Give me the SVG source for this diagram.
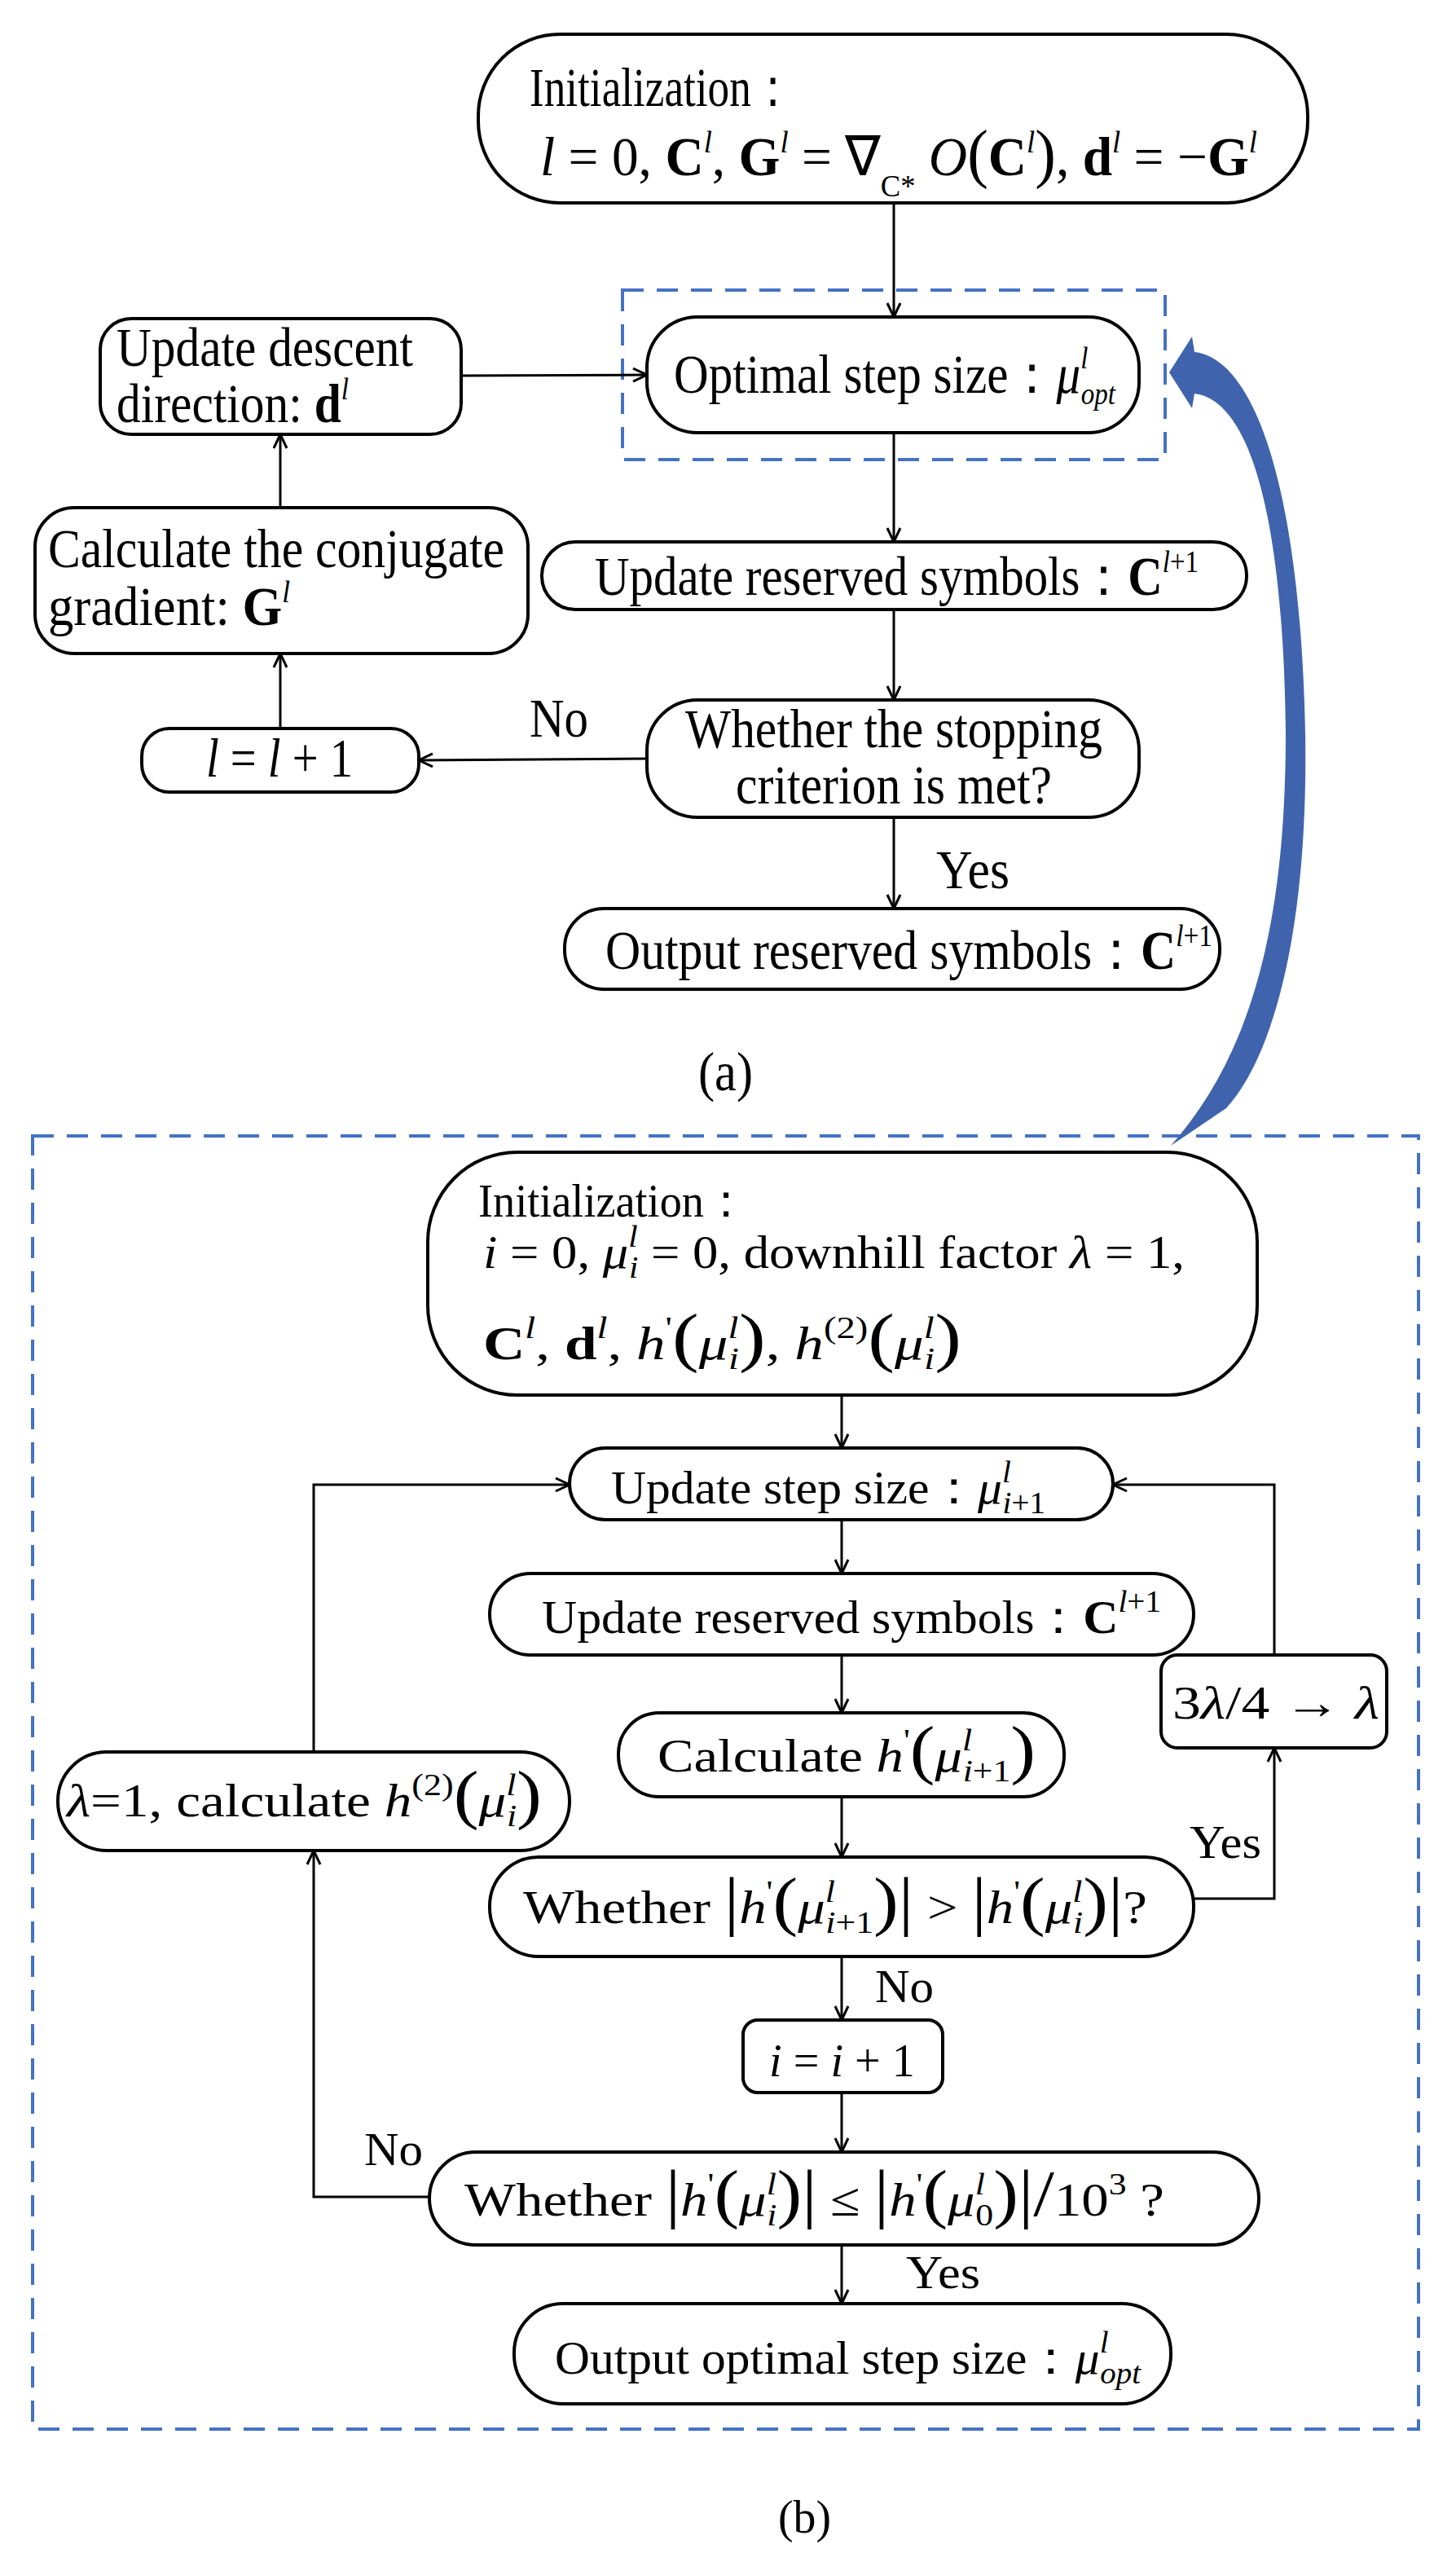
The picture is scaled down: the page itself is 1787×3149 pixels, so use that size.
<svg xmlns="http://www.w3.org/2000/svg" width="1787" height="3149" viewBox="0 0 1787 3149">
<style>
.t{font-family:"Liberation Serif","Times New Roman",serif;fill:#000}
.a{font-size:68px}
.c{font-size:58px}
.i{font-style:italic}
.b{font-weight:bold}
.s{font-size:38px}
.p{font-size:80px}
.n{fill:#fff;stroke:#000;stroke-width:4}
.e{fill:none;stroke:#000;stroke-width:3;marker-end:url(#ah)}
.d{fill:none;stroke:#4472c4;stroke-width:4;stroke-dasharray:26 16}
</style>
<defs>
<marker id="ah" viewBox="0 0 20 20" refX="19" refY="10" markerWidth="20" markerHeight="20" markerUnits="userSpaceOnUse" orient="auto">
<path d="M2,2 L19,10 L2,18" fill="none" stroke="#000" stroke-width="3"/>
</marker>
</defs>
<rect width="1787" height="3149" fill="#fff"/>

<g id="dash-a"><rect class="d" x="764" y="356" width="666" height="208"/></g>
<g id="dash-b"><rect class="d" x="40" y="1394" width="1701" height="1587"/></g>

<g id="connectors">
<path class="e" d="M1097,249 V389"/>
<path class="e" d="M566,461 L794,460"/>
<path class="e" d="M344,623 V533"/>
<path class="e" d="M344,894 V802"/>
<path class="e" d="M1097,531 V665"/>
<path class="e" d="M1097,748 V859"/>
<path class="e" d="M794,931 L514,933"/>
<path class="e" d="M1097,1003 V1115"/>
<path class="e" d="M1033,1712 V1777"/>
<path class="e" d="M1033,1865 V1931"/>
<path class="e" d="M1033,2031 V2102"/>
<path class="e" d="M1033,2205 V2279"/>
<path class="e" d="M1033,2401 V2479"/>
<path class="e" d="M1033,2568 V2641"/>
<path class="e" d="M1033,2755 V2827"/>
<path class="e" d="M1465,2330 H1564 V2145"/>
<path class="e" d="M1564,2031 V1822 H1366"/>
<path class="e" d="M385,2150 V1822 H699"/>
<path class="e" d="M527,2696 H385 V2271"/>
<path id="swoosh" fill="#3f64ad" d="M1435,457 L1463,413 L1466,432 C1540,440 1596,600 1602,900 C1606,1150 1560,1300 1505,1360 L1437,1406 C1530,1300 1578,1150 1578,900 C1575,620 1530,490 1466,483 L1463,501 Z"/>
</g>

<g id="init-a">
<rect class="n" x="587" y="42" width="1018" height="207" rx="100"/>
<text class="t a" x="650" y="130" textLength="325" lengthAdjust="spacingAndGlyphs">Initialization：</text>
<text class="t a" x="663" y="215" textLength="880" lengthAdjust="spacingAndGlyphs"><tspan class="i">l</tspan> = 0, <tspan class="b">C</tspan><tspan class="s i" dy="-28">l</tspan><tspan dy="28">, </tspan><tspan class="b">G</tspan><tspan class="s i" dy="-28">l</tspan><tspan dy="28"> = ∇</tspan><tspan class="s" dy="26">C*</tspan><tspan class="i" dy="-26"> O</tspan><tspan class="p">(</tspan><tspan class="b">C</tspan><tspan class="s i" dy="-28">l</tspan><tspan class="p" dy="28">)</tspan>, <tspan class="b">d</tspan><tspan class="s i" dy="-28">l</tspan><tspan dy="28"> = −</tspan><tspan class="b">G</tspan><tspan class="s i" dy="-28">l</tspan></text>
</g>
<g id="opt-a">
<rect class="n" x="794" y="389" width="604" height="142" rx="62"/>
<text class="t a" x="827" y="482" textLength="542" lengthAdjust="spacingAndGlyphs">Optimal step size：<tspan class="i">μ</tspan><tspan class="s i" dy="-30">l</tspan><tspan class="s i" dx="-10" dy="44">opt</tspan></text>
</g>
<g id="desc-a">
<rect class="n" x="123" y="391" width="443" height="142" rx="38"/>
<text class="t a" x="143" y="449" textLength="364" lengthAdjust="spacingAndGlyphs">Update descent</text>
<text class="t a" x="143" y="518" textLength="285" lengthAdjust="spacingAndGlyphs">direction: <tspan class="b">d</tspan><tspan class="s i" dy="-28">l</tspan></text>
</g>
<g id="conj-a">
<rect class="n" x="43" y="623" width="605" height="179" rx="48"/>
<text class="t a" x="59" y="696" textLength="560" lengthAdjust="spacingAndGlyphs">Calculate the conjugate</text>
<text class="t a" x="59" y="767" textLength="297" lengthAdjust="spacingAndGlyphs">gradient: <tspan class="b">G</tspan><tspan class="s i" dy="-28">l</tspan></text>
</g>
<g id="inc-a">
<rect class="n" x="174" y="894" width="340" height="78" rx="34"/>
<text class="t a" x="253" y="953" textLength="180" lengthAdjust="spacingAndGlyphs"><tspan class="i">l</tspan> = <tspan class="i">l</tspan> + 1</text>
</g>
<g id="upd-a">
<rect class="n" x="665" y="665" width="865" height="83" rx="41"/>
<text class="t a" x="730" y="730" textLength="741" lengthAdjust="spacingAndGlyphs">Update reserved symbols：<tspan class="b">C</tspan><tspan class="s" dy="-28"><tspan class="i">l</tspan>+1</tspan></text>
</g>
<g id="stop-a">
<rect class="n" x="794" y="859" width="604" height="144" rx="62"/>
<text class="t a" x="841" y="917" textLength="512" lengthAdjust="spacingAndGlyphs">Whether the stopping</text>
<text class="t a" x="903" y="986" textLength="388" lengthAdjust="spacingAndGlyphs">criterion is met?</text>
</g>
<g id="out-a">
<rect class="n" x="693" y="1115" width="804" height="99" rx="48"/>
<text class="t a" x="743" y="1189" textLength="745" lengthAdjust="spacingAndGlyphs">Output reserved symbols：<tspan class="b">C</tspan><tspan class="s" dy="-28"><tspan class="i">l</tspan>+1</tspan></text>
</g>
<g id="labels-a">
<text class="t a" x="650" y="904" textLength="72" lengthAdjust="spacingAndGlyphs">No</text>
<text class="t a" x="1149" y="1090" textLength="90" lengthAdjust="spacingAndGlyphs">Yes</text>
<text class="t a" x="857" y="1338" textLength="67" lengthAdjust="spacingAndGlyphs">(a)</text>
</g>

<g id="init-b">
<rect class="n" x="525" y="1414" width="1018" height="298" rx="110"/>
<text class="t c" x="587" y="1493" textLength="331" lengthAdjust="spacingAndGlyphs">Initialization：</text>
<text class="t c" x="593" y="1556" textLength="861" lengthAdjust="spacingAndGlyphs"><tspan class="i">i</tspan> = 0, <tspan class="i">μ</tspan><tspan class="s i" dy="-26">l</tspan><tspan class="s i" dx="-10" dy="38">i</tspan><tspan dy="-12"> = 0, downhill factor </tspan><tspan class="i">λ</tspan> = 1,</text>
<text class="t c" x="593" y="1668" textLength="587" lengthAdjust="spacingAndGlyphs"><tspan class="b">C</tspan><tspan class="s i" dy="-26">l</tspan><tspan dy="26">, </tspan><tspan class="b">d</tspan><tspan class="s i" dy="-26">l</tspan><tspan dy="26">, </tspan><tspan class="i">h</tspan><tspan class="s" dy="-26">'</tspan><tspan class="p" dy="26">(</tspan><tspan class="i">μ</tspan><tspan class="s i" dy="-26">l</tspan><tspan class="s i" dx="-10" dy="38">i</tspan><tspan class="p" dy="-12">)</tspan>, <tspan class="i">h</tspan><tspan class="s" dy="-26">(2)</tspan><tspan class="p" dy="26">(</tspan><tspan class="i">μ</tspan><tspan class="s i" dy="-26">l</tspan><tspan class="s i" dx="-10" dy="38">i</tspan><tspan class="p" dy="-12">)</tspan></text>
</g>
<g id="step-b">
<rect class="n" x="699" y="1777" width="667" height="88" rx="44"/>
<text class="t c" x="750" y="1845" textLength="533" lengthAdjust="spacingAndGlyphs">Update step size：<tspan class="i">μ</tspan><tspan class="s i" dy="-26">l</tspan><tspan class="s" dx="-10" dy="38"><tspan class="i">i</tspan>+1</tspan></text>
</g>
<g id="upd-b">
<rect class="n" x="601" y="1931" width="864" height="100" rx="50"/>
<text class="t c" x="665" y="2004" textLength="760" lengthAdjust="spacingAndGlyphs">Update reserved symbols：<tspan class="b">C</tspan><tspan class="s" dy="-26"><tspan class="i">l</tspan>+1</tspan></text>
</g>
<g id="calc-b">
<rect class="n" x="759" y="2102" width="547" height="103" rx="50"/>
<text class="t c" x="807" y="2174" textLength="464" lengthAdjust="spacingAndGlyphs">Calculate  <tspan class="i">h</tspan><tspan class="s" dy="-26">'</tspan><tspan class="p" dy="26">(</tspan><tspan class="i">μ</tspan><tspan class="s i" dy="-26">l</tspan><tspan class="s" dx="-10" dy="38"><tspan class="i">i</tspan>+1</tspan><tspan class="p" dy="-12">)</tspan></text>
</g>
<g id="cmp-b">
<rect class="n" x="601" y="2279" width="864" height="122" rx="60"/>
<text class="t c" x="642" y="2360" textLength="766" lengthAdjust="spacingAndGlyphs">Whether <tspan class="p">|</tspan><tspan class="i">h</tspan><tspan class="s" dy="-26">'</tspan><tspan class="p" dy="26">(</tspan><tspan class="i">μ</tspan><tspan class="s i" dy="-26">l</tspan><tspan class="s" dx="-10" dy="38"><tspan class="i">i</tspan>+1</tspan><tspan class="p" dy="-12">)|</tspan> &gt; <tspan class="p">|</tspan><tspan class="i">h</tspan><tspan class="s" dy="-26">'</tspan><tspan class="p" dy="26">(</tspan><tspan class="i">μ</tspan><tspan class="s i" dy="-26">l</tspan><tspan class="s i" dx="-10" dy="38">i</tspan><tspan class="p" dy="-12">)|</tspan>?</text>
</g>
<g id="inc-b">
<rect class="n" x="912" y="2479" width="245" height="89" rx="18"/>
<text class="t c" x="944" y="2548" textLength="179" lengthAdjust="spacingAndGlyphs"><tspan class="i">i</tspan> = <tspan class="i">i</tspan> + 1</text>
</g>
<g id="conv-b">
<rect class="n" x="527" y="2641" width="1018" height="114" rx="57"/>
<text class="t c" x="570" y="2719" textLength="859" lengthAdjust="spacingAndGlyphs">Whether <tspan class="p">|</tspan><tspan class="i">h</tspan><tspan class="s" dy="-26">'</tspan><tspan class="p" dy="26">(</tspan><tspan class="i">μ</tspan><tspan class="s i" dy="-26">l</tspan><tspan class="s i" dx="-10" dy="38">i</tspan><tspan class="p" dy="-12">)|</tspan> ≤ <tspan class="p">|</tspan><tspan class="i">h</tspan><tspan class="s" dy="-26">'</tspan><tspan class="p" dy="26">(</tspan><tspan class="i">μ</tspan><tspan class="s i" dy="-26">l</tspan><tspan class="s" dx="-10" dy="38">0</tspan><tspan class="p" dy="-12">)|</tspan><tspan class="p">/</tspan>10<tspan class="s" dy="-26">3</tspan><tspan dy="26"> ?</tspan></text>
</g>
<g id="out-b">
<rect class="n" x="631" y="2827" width="806" height="123" rx="60"/>
<text class="t c" x="681" y="2913" textLength="719" lengthAdjust="spacingAndGlyphs">Output optimal step size：<tspan class="i">μ</tspan><tspan class="s i" dy="-26">l</tspan><tspan class="s i" dx="-10" dy="38">opt</tspan></text>
</g>
<g id="reset-b">
<rect class="n" x="71" y="2150" width="628" height="121" rx="60"/>
<text class="t c" x="82" y="2229" textLength="583" lengthAdjust="spacingAndGlyphs"><tspan class="i">λ</tspan>=1, calculate <tspan class="i">h</tspan><tspan class="s" dy="-26">(2)</tspan><tspan class="p" dy="26">(</tspan><tspan class="i">μ</tspan><tspan class="s i" dy="-26">l</tspan><tspan class="s i" dx="-10" dy="38">i</tspan><tspan class="p" dy="-12">)</tspan></text>
</g>
<g id="shrink-b">
<rect class="n" x="1425" y="2031" width="277" height="114" rx="20"/>
<text class="t c" x="1439" y="2109" textLength="254" lengthAdjust="spacingAndGlyphs">3<tspan class="i">λ</tspan>/4 → <tspan class="i">λ</tspan></text>
</g>
<g id="labels-b">
<text class="t c" x="1460" y="2280" textLength="88" lengthAdjust="spacingAndGlyphs">Yes</text>
<text class="t c" x="1074" y="2457" textLength="72" lengthAdjust="spacingAndGlyphs">No</text>
<text class="t c" x="447" y="2657" textLength="72" lengthAdjust="spacingAndGlyphs">No</text>
<text class="t c" x="1112" y="2808" textLength="91" lengthAdjust="spacingAndGlyphs">Yes</text>
<text class="t c" x="955" y="3108" textLength="65" lengthAdjust="spacingAndGlyphs">(b)</text>
</g>
</svg>
